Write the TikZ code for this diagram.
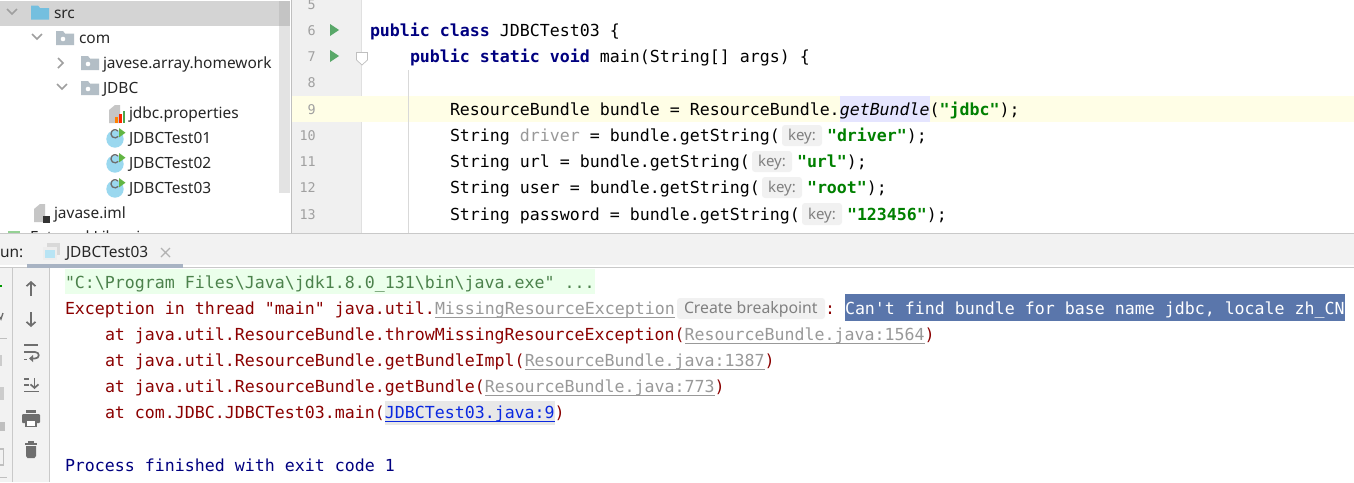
\documentclass[tikz,border=0pt]{standalone}
\usepackage{fontspec}
\setmainfont{Noto Sans}
\newfontfamily\codefont{DejaVu Sans Mono}
\usetikzlibrary{arrows.meta}
\definecolor{kw}{HTML}{000080}
\definecolor{strc}{HTML}{008000}
\definecolor{errc}{HTML}{8B0000}
\definecolor{linkc}{HTML}{999999}
\definecolor{bluelink}{HTML}{0A28E0}
\definecolor{numc}{HTML}{A0A0A0}
\definecolor{bar}{HTML}{F2F2F2}
\definecolor{rule}{HTML}{C9C9C9}
\definecolor{iconc}{HTML}{6E6E6E}
\definecolor{foldc}{HTML}{B3BEC6}
\definecolor{clsc}{HTML}{9AD8EF}
\definecolor{srcc}{HTML}{74BFDF}
\definecolor{tabline}{HTML}{A8B3C3}
\definecolor{selc}{HTML}{5A76AB}
\definecolor{runtri}{HTML}{62B543}
\definecolor{greenrun}{HTML}{59A869}
\newcommand{\cs}{\fontsize{16.6}{20}\selectfont\codefont}
\newcommand{\kwd}[1]{{\bfseries\color{kw}#1}}
\newcommand{\strl}[1]{{\bfseries\color{strc}#1}}
\newcommand{\gry}[1]{{\color{linkc}#1}}
\newcommand{\mychev}[2]{\draw[gray!75,line width=1.6pt] (#1-5,#2-3) -- (#1,#2+2) -- (#1+5,#2-3);}
\newcommand{\mychevr}[2]{\draw[gray!75,line width=1.6pt] (#1-2,#2-5) -- (#1+3,#2) -- (#1-2,#2+5);}
\newcommand{\myfolder}[3]{\fill[#3] (#1,#2) -- (#1+7,#2) -- (#1+9,#2+2.5) -- (#1+18,#2+2.5) -- (#1+18,#2+14) -- (#1,#2+14) -- cycle;}
\newcommand{\mypkg}[2]{\myfolder{#1}{#2}{foldc}\fill[white] (#1+7,#2+8) circle (2.3);}
\newcommand{\mycls}[2]{\fill[clsc] (#1,#2) circle (8.7);
  \draw[iconc,line width=1.3pt] (#1+3.2,#2-2.6) arc (40:320:4.1);
  \fill[runtri] (#1+4,#2-11) -- (#1+10.5,#2-6.3) -- (#1+4,#2-1.6) -- cycle;}
\newcommand{\myfile}[2]{\fill[gray!45] (#1,#2+5) -- (#1+6,#2) -- (#1+11,#2) -- (#1+11,#2+18) -- (#1,#2+18) -- cycle;}
\tikzset{
  txt/.style={anchor=base west,inner sep=0pt,outer sep=0pt},
  codet/.style={txt,font=\cs,text=black},
  treet/.style={txt,font=\fontsize{15.45}{19}\selectfont,text=black!85},
  numt/.style={anchor=base east,inner sep=0pt,font=\fontsize{13.4}{16}\selectfont\codefont,text=numc},
  hint/.style={fill=black!5.5,rounded corners=3pt},
  hintt/.style={txt,font=\fontsize{15}{18}\selectfont,text=black!50},
  ulink/.style={line width=.9pt,linkc},
  ico/.style={iconc,line width=1.7pt},
  icoar/.style={iconc,line width=1.7pt,-{Straight Barb[length=4pt,width=9pt,line width=1.7pt]}}
}
\begin{document}
\begin{tikzpicture}[x=1pt,y=-1pt]
\useasboundingbox (0,0) rectangle (1354,482);
\fill[white] (0,0) rectangle (1354,482);
% sidebar
\fill[black!17] (0,1) rectangle (290,26);
\fill[black!11] (279,26) rectangle (290,193);
\fill[black!23] (279,1) rectangle (290,26);
% gutter
\fill[black!6] (292,0) rectangle (361,233);
\draw[black!25,line width=.8pt] (291.5,0) -- (291.5,233);
\fill[yellow!10!white] (292,96) rectangle (1354,122);
\draw[black!12,line width=.8pt] (361.5,0) -- (361.5,96) (361.5,122) -- (361.5,233);
\draw[black!15,line width=.8pt] (408.5,70) -- (408.5,233);
\fill[blue!10] (840,96) rectangle (930,122);
% tree
\mychev{12}{12}
\myfolder{31}{5.5}{srcc}
\node[treet] (src) at (54,18.3) {src};
\mychev{37}{37}
\mypkg{56}{31}
\node[treet] (com) at (79,43.3) {com};
\mychevr{60}{63}
\mypkg{81}{56}
\node[treet] (pkg) at (103,68.3) {javese.array.homework};
\mychev{62}{87}
\mypkg{81}{81}
\node[treet] (jdbc) at (103,93.3) {JDBC};
\myfile{109}{105}
\fill[orange] (115,117) rectangle (117.5,123);
\fill[red!70!orange] (119,114) rectangle (121.5,123);
\fill[green!50!black!70] (122.5,111) rectangle (125,123);
\node[treet] (prop) at (129,118.3) {jdbc.properties};
\mycls{115}{139}
\node[treet] (t1) at (129,143.3) {JDBCTest01};
\mycls{115}{164}
\node[treet] (t2) at (129,168.3) {JDBCTest02};
\mycls{115}{189}
\node[treet] (t3) at (129,193.3) {JDBCTest03};
\myfile{34}{204}
\fill[black!80] (43,216) rectangle (50,223);
\node[treet] (iml) at (54,218.3) {javase.iml};
\begin{scope}
\clip (0,226) rectangle (292,233);
\node[treet] (lib) at (30,242.5) {External Libraries};
\fill[green!40!gray!60] (8,231) rectangle (20,233);
\end{scope}
% gutter numbers
\node[numt] (l5) at (316,9) {5};
\node[numt] (l6) at (316,35) {6};
\node[numt] (l7) at (316,61) {7};
\node[numt] (l8) at (316,87) {8};
\node[numt] (l9) at (316,114) {9};
\node[numt] (l10) at (316,140) {10};
\node[numt] (l11) at (316,166) {11};
\node[numt] (l12) at (316,192) {12};
\node[numt] (l13) at (316,219) {13};
\fill[greenrun] (330,24) -- (339,30) -- (330,36) -- cycle;
\fill[greenrun] (330,50) -- (339,56) -- (330,62) -- cycle;
\draw[black!25,fill=white,line width=.7pt] (356.5,52.5) -- (367.5,52.5) -- (367.5,60) -- (362,65) -- (356.5,60) -- cycle;
% code
\node[codet] (c6) at (370,36) {\kwd{public class} JDBCTest03 \{};
\node[codet] (c7) at (410,62) {\kwd{public static void} main(String[] args) \{};
\node[codet] (c9) at (450,115) {ResourceBundle bundle = ResourceBundle.{\itshape getBundle}(\strl{"jdbc"});};
\fill[hint] (782,125) rectangle (822,146);
\node[codet] (c10) at (450,141) {String \gry{driver} = bundle.getString(};
\node[hintt] (k10) at (788,140) {key:};
\node[codet] (s10) at (827,141) {\strl{"driver"});};
\fill[hint] (752,151) rectangle (792,172);
\node[codet] (c11) at (450,167) {String url = bundle.getString(};
\node[hintt] (k11) at (758,166) {key:};
\node[codet] (s11) at (797,167) {\strl{"url"});};
\fill[hint] (762,177) rectangle (802,198);
\node[codet] (c12) at (450,193) {String user = bundle.getString(};
\node[hintt] (k12) at (768,192) {key:};
\node[codet] (s12) at (807,193) {\strl{"root"});};
\fill[hint] (802,203) rectangle (842,225);
\node[codet] (c13) at (450,220) {String password = bundle.getString(};
\node[hintt] (k13) at (808,219) {key:};
\node[codet] (s13) at (847,220) {\strl{"123456"});};
% run bar
\fill[bar] (0,234) rectangle (1354,265);
\draw[rule,line width=1pt] (0,233.5) -- (1354,233.5);
\draw[rule,line width=1pt] (0,267.5) -- (1354,267.5);
\fill[tabline] (27,264) rectangle (183,268);
\node[treet] (run) at (0,257) {un:};
\fill[black!15] (47,243) rectangle (60,255);
\fill[black!7] (43,247) rectangle (57,260);
\fill[clsc!70] (45,250) rectangle (55,258);
\node[treet] (tab) at (66,257) {JDBCTest03};
\draw[black!30,line width=1.2pt] (161,248) -- (170,257) (170,248) -- (161,257);
% console toolbar
\fill[bar] (0,268) rectangle (49,482);
\draw[rule,line width=.9pt] (12.5,268) -- (12.5,482);
\draw[rule,line width=.9pt] (49.5,268) -- (49.5,482);
\fill[green!60!black] (0,285) rectangle (2,287);
\draw[ico,line width=1.4pt] (0,317) -- (1,319) -- (3,313);
\draw[black!25] (0,338.5) -- (7,338.5);
\fill[black!20] (0,355) rectangle (2,366);
\fill[black!20] (0,387) rectangle (4,400);
\fill[black!25] (0,422) rectangle (5,431);
\draw[black!25,line width=1.5pt] (0,449) -- (3.5,449) -- (3.5,465) -- (0,465);
\draw[black!25] (0,477.5) -- (7,477.5);
\coordinate (upa) at (31,296); \coordinate (upb) at (31,281);
\draw[icoar] (upa) -- (upb);
\coordinate (dna) at (31,312); \coordinate (dnb) at (31,327);
\draw[icoar] (dna) -- (dnb);
\draw[ico] (24,345) -- (38,345);
\draw[ico] (24,352) -- (35,352) .. controls (40,352) and (40,358.5) .. (35,358.5) -- (31,358.5);
\draw[ico] (24,359.5) -- (27,359.5);
\fill[iconc] (33,355) -- (33,362) -- (29,358.5) -- cycle;
\draw[ico] (24,379) -- (29,379) (24,385) -- (29,385) (24,391.5) -- (38.5,391.5);
\coordinate (sca) at (34.5,378); \coordinate (scb) at (34.5,389);
\draw[iconc,line width=1.7pt,-{Straight Barb[length=3.5pt,width=8pt,line width=1.7pt]}] (sca) -- (scb);
\fill[iconc,rounded corners=1pt] (22,414) rectangle (40,423);
\fill[iconc] (26,410) rectangle (36,413);
\draw[iconc,fill=white,line width=1.3pt] (26,420) rectangle (36,426.5);
\fill[iconc] (25,443) rectangle (37,445);
\fill[iconc] (28,441) rectangle (34,444);
\fill[iconc] (26,446) -- (36,446) -- (36,456) -- (34.5,458) -- (27.5,458) -- (26,456) -- cycle;
% console
\fill[green!8] (65,269) rectangle (595,294);
\node[codet,text=green!30!black!70] (o1) at (65,288) {"C:\textbackslash Program Files\textbackslash Java\textbackslash jdk1.8.0\_131\textbackslash bin\textbackslash java.exe" ...};
\node[codet,text=errc] (o2) at (65,314) {Exception in thread "main" java.util.};
\node[codet,text=linkc] (o2b) at (435,314) {MissingResourceException};
\draw[ulink] (435,317) -- (675,317);
\fill[hint] (677,298) rectangle (825,319);
\node[hintt,font=\fontsize{15.8}{18}\selectfont] (bp) at (684,313.5) {Create breakpoint};
\node[codet,text=errc] (o2c) at (825,314) {:};
\fill[selc] (845,294) rectangle (1345,321);
\node[codet,text=white] (o2d) at (845,314) {Can't find bundle for base name jdbc, locale zh\_CN};
\node[codet,text=errc] (o3) at (105,340) {at java.util.ResourceBundle.throwMissingResourceException(\gry{ResourceBundle.java:1564})};
\draw[ulink] (685,343) -- (925,343);
\node[codet,text=errc] (o4) at (105,366) {at java.util.ResourceBundle.getBundleImpl(\gry{ResourceBundle.java:1387})};
\draw[ulink] (525,369) -- (765,369);
\node[codet,text=errc] (o5) at (105,392) {at java.util.ResourceBundle.getBundle(\gry{ResourceBundle.java:773})};
\draw[ulink] (485,395) -- (715,395);
\fill[black!9] (385,401) rectangle (555,425);
\node[codet,text=errc] (o6) at (105,418) {at com.JDBC.JDBCTest03.main(\textcolor{bluelink}{JDBCTest03.java:9})};
\draw[line width=.9pt,bluelink] (385,421) -- (555,421);
\node[codet,text=kw] (o7) at (65,471) {Process finished with exit code 1};
\end{tikzpicture}
\end{document}
